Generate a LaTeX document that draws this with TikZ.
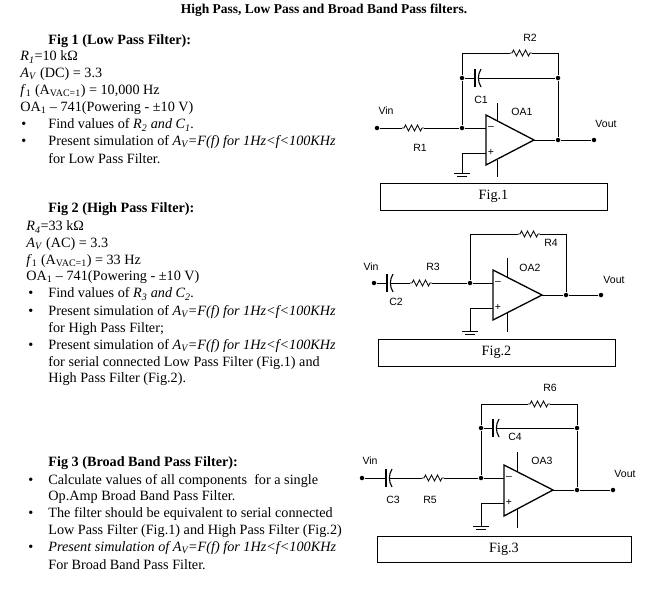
\documentclass[tikz,border=0pt]{standalone}
\usepackage{fontspec}
\setmainfont{Liberation Serif}
\newfontfamily\lsans{Liberation Sans}
\begin{document}
\begin{tikzpicture}[x=1pt,y=-1pt,line width=0.8pt,
  dot/.style={circle,fill,inner sep=0,minimum size=4.5pt},
  lbl/.style={inner sep=0,font=\lsans\fontsize{10.5}{12}\selectfont},
  txt/.style={anchor=west,inner sep=0,font=\fontsize{14.2}{16}\selectfont},
  ttl/.style={txt,font=\bfseries\fontsize{14.2}{16}\selectfont},
  res/.pic={\draw (0,0)--(2,0)--(3.5,-3)--(6.5,3)--(9.5,-3)--(12.5,3)--(15.5,-3)--(18.5,3)--(20,0)--(22,0);},
  cap/.pic={\draw[line width=1.1pt] (0,-9)--(0,9); \draw[line width=1.1pt] (6,-9) .. controls (2.5,-3) and (2.5,3) .. (6,9);},
  oa/.style={line width=1.3pt},
  gnd/.pic={\draw[line width=1pt] (-8,0)--(8,0); \draw[line width=1pt] (-5,3)--(5,3);}]
\useasboundingbox (0,0) rectangle (649,613);
\node[inner sep=0,font=\bfseries\fontsize{13.5}{16}\selectfont] (title) at (324,10) {High Pass, Low Pass and Broad Band Pass filters.};
% ---------- Fig 1 text
\node[ttl] (t1) at (48,41) {Fig 1 (Low Pass Filter):};
\node[txt] (t1a) at (20,57) {\textit{R}\textsubscript{\textit{1}}=10 kΩ};
\node[txt] (t1b) at (20,74) {\textit{A}\textsubscript{\textit{V}} (DC) = 3.3};
\node[txt] (t1c) at (20,91) {\textit{f}\textsubscript{1} (A\textsubscript{VAC=1}) = 10,000 Hz};
\node[txt] (t1d) at (20,108) {OA\textsubscript{1} – 741(Powering - ±10 V)};
\node[txt] (b1a) at (21,125) {•}; \node[txt] (t1e) at (48,125) {Find values of \textit{R\textsubscript{2} and C\textsubscript{1}.}};
\node[txt] (b1b) at (21,142) {•}; \node[txt] (t1f) at (48,142) {Present simulation of \textit{A\textsubscript{V}=F(f) for 1Hz<f<100KHz}};
\node[txt] (t1g) at (48,159) {for Low Pass Filter.};
% ---------- Fig 2 text
\node[ttl] (t2) at (48,209) {Fig 2 (High Pass Filter):};
\node[txt] (t2a) at (26,227) {\textit{R}\textsubscript{\textit{4}}=33 kΩ};
\node[txt] (t2b) at (26,244) {\textit{A}\textsubscript{\textit{V}} (AC) = 3.3};
\node[txt] (t2c) at (26,261) {\textit{f}\textsubscript{1} (A\textsubscript{VAC=1}) = 33 Hz};
\node[txt] (t2d) at (26,277) {OA\textsubscript{1} – 741(Powering - ±10 V)};
\node[txt] (b2a) at (28,294) {•}; \node[txt] (t2e) at (48,294) {Find values of \textit{R\textsubscript{3} and C\textsubscript{2}.}};
\node[txt] (b2b) at (28,312) {•}; \node[txt] (t2f) at (48,312) {Present simulation of \textit{A\textsubscript{V}=F(f) for 1Hz<f<100KHz}};
\node[txt] (t2g) at (48,329) {for High Pass Filter;};
\node[txt] (b2c) at (28,346) {•}; \node[txt] (t2h) at (48,346) {Present simulation of \textit{A\textsubscript{V}=F(f) for 1Hz<f<100KHz}};
\node[txt] (t2i) at (48,363) {for serial connected Low Pass Filter (Fig.1) and};
\node[txt] (t2j) at (48,379) {High Pass Filter (Fig.2).};
% ---------- Fig 3 text
\node[ttl] (t3) at (48,463) {Fig 3 (Broad Band Pass Filter):};
\node[txt] (b3a) at (28,481) {•}; \node[txt] (t3a) at (48,481) {Calculate values of all components \ for a single};
\node[txt] (t3b) at (48,497) {Op.Amp Broad Band Pass Filter.};
\node[txt] (b3b) at (28,514) {•}; \node[txt] (t3c) at (48,514) {The filter should be equivalent to serial connected};
\node[txt] (t3d) at (48,531) {Low Pass Filter (Fig.1) and High Pass Filter (Fig.2)};
\node[txt] (b3c) at (28,548) {•}; \node[txt] (t3e) at (48,548) {\textit{Present simulation of A\textsubscript{V}=F(f) for 1Hz<f<100KHz}};
\node[txt] (t3f) at (48,565) {For Broad Band Pass Filter.};
% ---------- Fig 1 circuit
\node[dot] (vin1) at (377,128) {};
\node[dot] (j1) at (462,128) {};
\node[dot] (c1l) at (462,78) {};
\node[dot] (c1r) at (558,78) {};
\node[dot] (o1) at (558,140) {};
\node[dot] (vout1) at (594,140) {};
\draw (vin1) -- (402,128); \pic at (402,128) {res}; \draw (424,128) -- (j1) -- (486,128);
\draw[oa,fill=white] (486,115) -- (534,140) -- (486,165) -- cycle;
\draw (497,103) -- (497,120.5); \draw (497,159.5) -- (497,177);
\node[lbl] at (491,128) {–}; \node[lbl] at (491,152) {+};
\draw (486,153) -- (462,153) -- (462,173); \pic at (462,173) {gnd};
\draw (534,140) -- (o1) -- (vout1);
\draw (j1) -- (c1l) -- (462,53) -- (510,53); \pic at (510,53) {res}; \draw (532,53) -- (558,53) -- (c1r) -- (o1);
\draw (c1l) -- (475,78); \pic at (475,78) {cap}; \draw (478,78) -- (c1r);
\node[lbl] at (530,38) {R2}; \node[lbl] at (481,100) {C1}; \node[lbl] at (522,112) {OA1};
\node[lbl] at (386,111) {Vin}; \node[lbl] at (420,148) {R1}; \node[lbl] at (606,124) {Vout};
\node[draw,minimum width=227pt,minimum height=27pt,inner sep=0,font=\fontsize{14.2}{16}\selectfont] (f1) at (493.5,196.5) {Fig.1};
% ---------- Fig 2 circuit
\node[dot] (vin2) at (374,283) {};
\node[dot] (j2) at (470,283) {};
\node[dot] (o2) at (566,295) {};
\node[dot] (vout2) at (601,295) {};
\draw (vin2) -- (387,283); \pic at (387,283) {cap}; \draw (390,283) -- (410,283); \pic at (410,283) {res}; \draw (432,283) -- (j2) -- (493,283);
\draw[oa,fill=white] (493,270) -- (542,295) -- (493,320) -- cycle;
\draw (507,258) -- (507,277); \draw (507,313) -- (507,332);
\node[lbl] at (498,283) {–}; \node[lbl] at (498,307) {+};
\draw (493,308) -- (470,308) -- (470,331); \pic at (470,331) {gnd};
\draw (542,295) -- (o2) -- (vout2);
\draw (j2) -- (470,234) -- (518,234); \pic at (518,234) {res}; \draw (540,234) -- (566,234) -- (o2);
\node[lbl] at (371,267) {Vin}; \node[lbl] at (396,302) {C2}; \node[lbl] at (433,267) {R3};
\node[lbl] at (551,243) {R4}; \node[lbl] at (530,268) {OA2}; \node[lbl] at (614,280) {Vout};
\node[draw,minimum width=237pt,minimum height=27pt,inner sep=0,font=\fontsize{14.2}{16}\selectfont] (f2) at (496.5,352.5) {Fig.2};
% ---------- Fig 3 circuit
\node[dot] (vin3) at (362,478) {};
\node[dot] (j3) at (481,478) {};
\node[dot] (c4l) at (481,428) {};
\node[dot] (c4r) at (577,428) {};
\node[dot] (o3) at (577,490) {};
\node[dot] (vout3) at (613,490) {};
\draw (vin3) -- (386,478); \pic at (386,478) {cap}; \draw (389,478) -- (422,478); \pic at (422,478) {res}; \draw (444,478) -- (j3) -- (504,478);
\draw[oa,fill=white] (504,465) -- (553,490) -- (504,516) -- cycle;
\draw (517,452) -- (517,472); \draw (517,509) -- (517,528);
\node[lbl] at (509,478) {–}; \node[lbl] at (509,502) {+};
\draw (504,503) -- (481,503) -- (481,526); \pic at (481,526) {gnd};
\draw (553,490) -- (o3) -- (vout3);
\draw (j3) -- (c4l) -- (481,404) -- (528,404); \pic at (528,404) {res}; \draw (550,404) -- (577,404) -- (c4r) -- (o3);
\draw (c4l) -- (493,428); \pic at (493,428) {cap}; \draw (496,428) -- (c4r);
\node[lbl] at (370,461) {Vin}; \node[lbl] at (393,500) {C3}; \node[lbl] at (430,500) {R5};
\node[lbl] at (550,388) {R6}; \node[lbl] at (515,437) {C4}; \node[lbl] at (542,461) {OA3}; \node[lbl] at (625,474) {Vout};
\node[draw,minimum width=254pt,minimum height=26pt,inner sep=0,font=\fontsize{14.2}{16}\selectfont] (f3) at (504,549) {Fig.3};
\end{tikzpicture}
\end{document}
